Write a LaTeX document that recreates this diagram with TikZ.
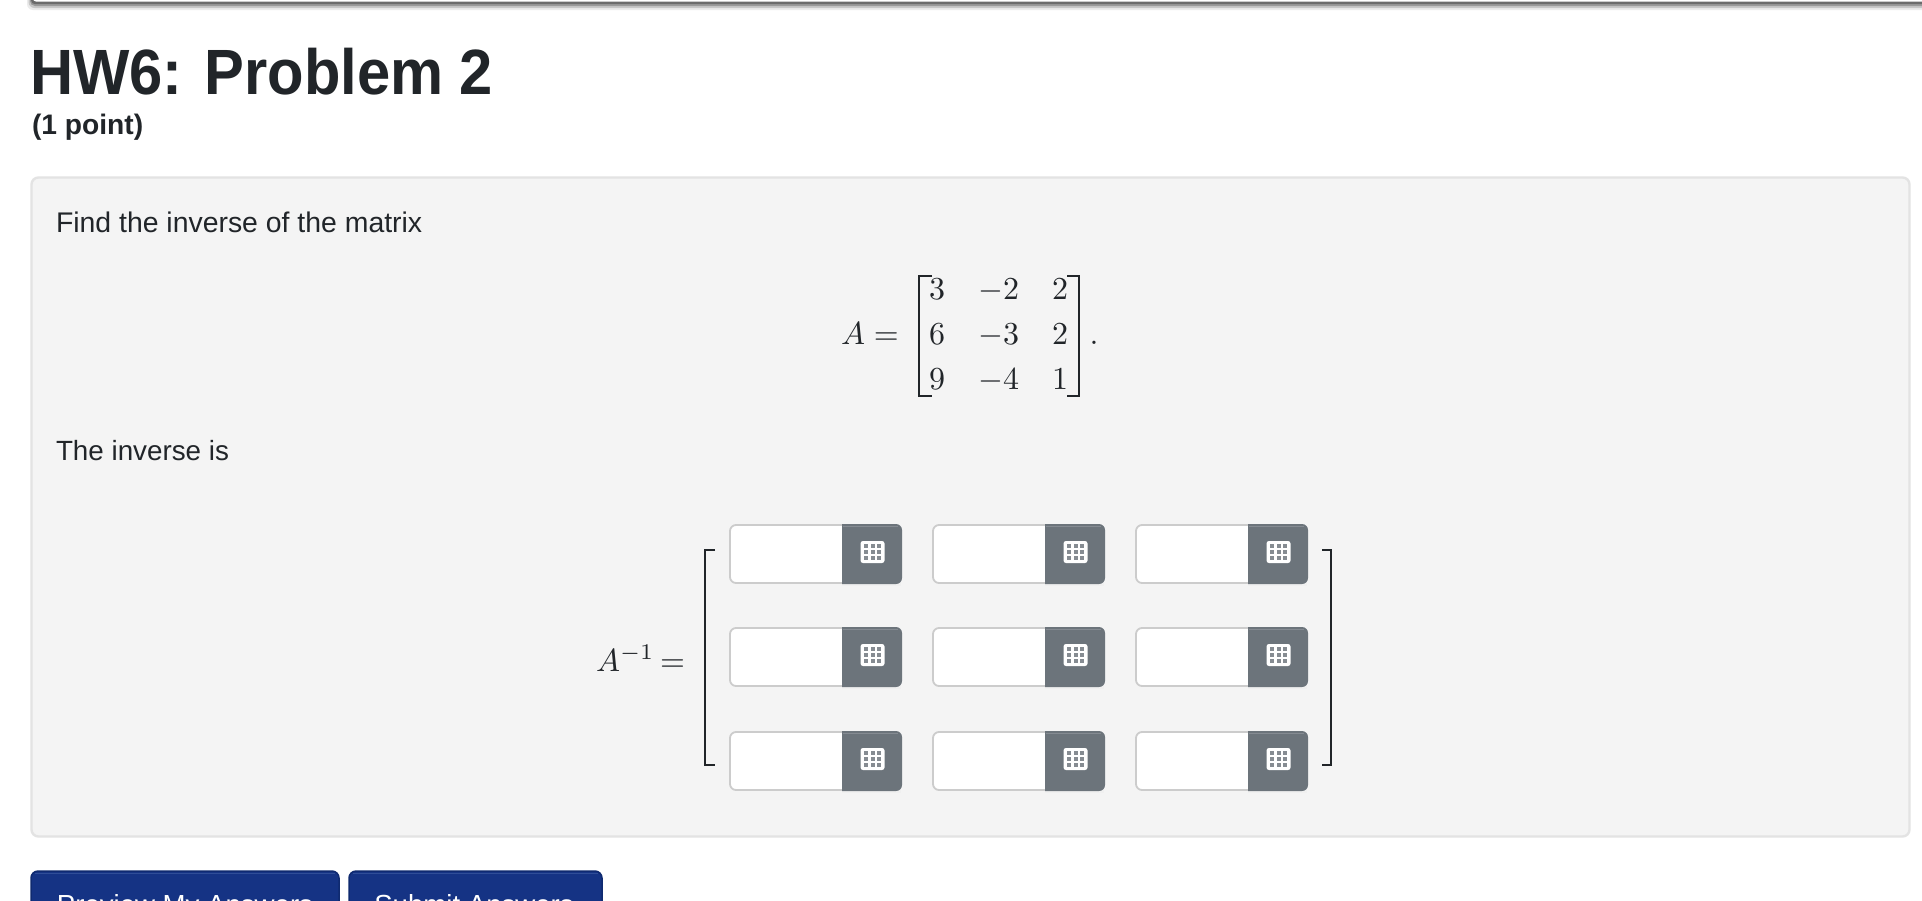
\documentclass[tikz,border=0pt]{standalone}
\usepackage{graphicx}
\usepackage[no-math]{fontspec}
\newfontfamily\uifont{Liberation Sans}
\definecolor{ink}{HTML}{212529}
\definecolor{panelfill}{HTML}{F4F4F4}
\definecolor{panelline}{HTML}{E3E3E3}
\definecolor{inputline}{HTML}{CCCCCC}
\definecolor{btngrey}{HTML}{6C747B}
\definecolor{btnlight}{HTML}{858B92}
\definecolor{btndots}{HTML}{868C92}
\definecolor{navy}{HTML}{153384}
\definecolor{navyline}{HTML}{0F2A70}
\definecolor{navylight}{HTML}{2F4D97}
\newcommand{\mth}[1]{\scalebox{3.2}{$#1$}}
\newcommand{\answerbox}[2]{%
  % input field
  \fill[black!6] (#1+113,#2+2) rectangle (#1+172,#2+62);
  \draw[inputline,line width=1.8pt,fill=white,rounded corners=6pt]
    (#1+120,#2+1) -- (#1+1,#2+1) -- (#1+1,#2+59) -- (#1+120,#2+59);
  % addon button
  \fill[btngrey,rounded corners=6pt] (#1+125,#2) -- (#1+173,#2) -- (#1+173,#2+60) -- (#1+125,#2+60) [sharp corners] -- (#1+113,#2+60) -- (#1+113,#2) -- cycle;
  \draw[btnlight,line width=1.2pt] (#1+114,#2+2.8) -- (#1+169,#2+2.8);
  % calculator icon
  \fill[white,rounded corners=2.5pt] (#1+131.5,#2+17) rectangle (#1+155.5,#2+39);
  \foreach \ix in {137,143.5,150} \foreach \iy in {22,28,34}
    \fill[btndots] (#1+\ix-2,#2+\iy-1.6) rectangle (#1+\ix+2,#2+\iy+1.6);
}
\tikzset{
  every node/.style={inner sep=0pt,outer sep=0pt},
  uitext/.style={anchor=base west,text=ink,font=\uifont},
  mathtext/.style={anchor=base,text=ink},
  bracket/.style={draw=ink,line cap=butt,line join=miter}
}
\begin{document}
\begin{tikzpicture}[x=1pt,y=-1pt]
\useasboundingbox (0,0) rectangle (1922,900);
\begin{scope}
\clip (0,0) rectangle (1922,900);
\fill[white] (0,0) rectangle (1922,900);
% top bar with shadow
\fill[black!8,rounded corners=6pt] (27,-12) rectangle (1930,10);
\fill[black!22,rounded corners=6pt] (28.5,-12) rectangle (1930,8);
\fill[black!40,rounded corners=5pt] (30,-12) rectangle (1930,6);
\fill[black!58,rounded corners=4pt] (31,-12) rectangle (1930,4.2);
\fill[white,rounded corners=3pt] (33,-12) rectangle (1930,1.5);
% heading
\node[uitext] (title) at (30,94) {\scalebox{0.9325}[1]{\fontsize{64}{70}\selectfont\bfseries HW6: Problem 2}};
\node[uitext] (points) at (32,134) {\fontsize{28.2}{32}\selectfont\bfseries (1 point)};
% panel
\draw[panelline,line width=2.4pt,fill=panelfill,rounded corners=7pt] (31.5,177.5) rectangle (1909.5,836.5);
\node[uitext] (find) at (56,232) {\fontsize{28.4}{32}\selectfont Find the inverse of the matrix};
\node[uitext] (inverse) at (56,460) {\fontsize{27.8}{32}\selectfont The inverse is};
% given matrix
\node[mathtext,anchor=base west] (lhsA) at (841,344) {\mth{A=}};
\draw[bracket,line width=2.2pt] (932,276) -- (919,276) -- (919,396) -- (932,396);
\draw[bracket,line width=2.2pt] (1067,276) -- (1079,276) -- (1079,396) -- (1067,396);
\node[mathtext] (a11) at (937,299) {\mth{3}};
\node[mathtext,anchor=base east] (a12) at (1019,299) {\mth{-2}};
\node[mathtext] (a13) at (1060,299) {\mth{2}};
\node[mathtext] (a21) at (937,344) {\mth{6}};
\node[mathtext,anchor=base east] (a22) at (1019,344) {\mth{-3}};
\node[mathtext] (a23) at (1060,344) {\mth{2}};
\node[mathtext] (a31) at (937,389) {\mth{9}};
\node[mathtext,anchor=base east] (a32) at (1019,389) {\mth{-4}};
\node[mathtext] (a33) at (1060,389) {\mth{1}};
\node[mathtext] (dot) at (1094,344) {\mth{.}};
% answer matrix
\node[mathtext,anchor=base west] (lhsB) at (596,671) {\mth{A^{-1}}};
\node[mathtext,anchor=base west] (eqB) at (660,671) {\mth{=}};
\draw[bracket,line width=2.8pt] (715,550) -- (705,550) -- (705,765) -- (715,765);
\draw[bracket,line width=2.8pt] (1322,550) -- (1331,550) -- (1331,765) -- (1322,765);
\foreach \cx in {729,932,1135} \foreach \cy in {524,627,731} {\answerbox{\cx}{\cy}}
% bottom buttons
\draw[navyline,line width=1.5pt,fill=navy,rounded corners=7pt] (31,871) rectangle (339,920);
\draw[navyline,line width=1.5pt,fill=navy,rounded corners=7pt] (349,871) rectangle (602,920);
\draw[navylight,line width=1.5pt] (35,873.5) -- (335,873.5);
\draw[navylight,line width=1.5pt] (353,873.5) -- (598,873.5);
\node[uitext,text=white,anchor=base] (preview) at (185,914) {\fontsize{27.6}{32}\selectfont Preview My Answers};
\node[uitext,text=white,anchor=base] (submit) at (474,914) {\fontsize{27.6}{32}\selectfont Submit Answers};
\end{scope}
\end{tikzpicture}
\end{document}
